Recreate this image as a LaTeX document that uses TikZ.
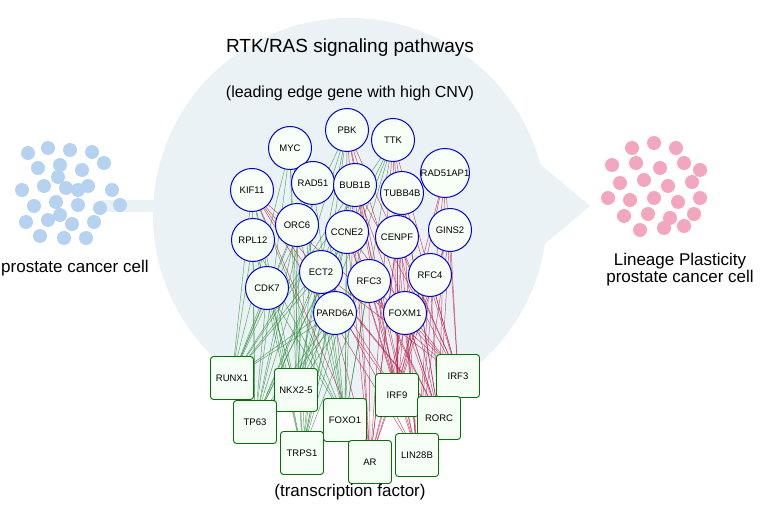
\documentclass[tikz,border=0pt]{standalone}
\usepackage{fontspec}
\setmainfont{Liberation Sans}
\usetikzlibrary{backgrounds}
\definecolor{bg}{HTML}{EAF2F5}
\definecolor{bd}{HTML}{B5D3F0}
\definecolor{pd}{HTML}{F3A6BE}
\definecolor{gr}{HTML}{2E8B3A}
\definecolor{rd}{HTML}{C01846}
\begin{document}
\begin{tikzpicture}[x=1pt,y=-1pt,
 gene/.style={circle,draw=blue!85!black,line width=1pt,fill=green!3,minimum size=43pt,inner sep=0pt,font=\fontsize{9.5}{10}\selectfont},
 tf/.style={rectangle,rounded corners=3pt,draw=green!45!black,line width=0.9pt,fill=green!4,minimum size=43pt,inner sep=0pt,font=\fontsize{9.5}{10}\selectfont},
 gl/.style={gr,line width=0.45pt,opacity=0.8},
 rl/.style={rd,line width=0.45pt,opacity=0.8},
 bdot/.style={circle,fill=bd,inner sep=0pt,minimum size=14pt},
 pdot/.style={circle,fill=pd,inner sep=0pt,minimum size=14pt},
 lbl/.style={font=\fontsize{17}{20}\selectfont,align=center}]
\useasboundingbox (0,0) rectangle (765,505);
\foreach \n/\x/\y in {PBK/347/130,MYC/290/148,TTK/393/140,KIF11/252/190,RAD51/313/183,BUB1B/355/185,TUBB4B/402/193,RAD51AP1/445/173,ORC6/297/225,CCNE2/347/232,CENPF/397/237,GINS2/450/230,RPL12/253/240,ECT2/321/272,RFC3/369/281,RFC4/430/275,CDK7/267/288,PARD6A/335/313,FOXM1/405/313}
  \node[gene] (\n) at (\x,\y) {\n};
\foreach \n/\t/\x/\y in {RUNX1/RUNX1/232/378,NKX/NKX2-5/296/390,TP63/TP63/255/422,FOXO1/FOXO1/345/420,TRPS1/TRPS1/302/453,AR/AR/370/462,IRF9/IRF9/397/395,IRF3/IRF3/458/376,RORC/RORC/439/418,LIN28B/LIN28B/417/455}
  \node[tf] (\n) at (\x,\y) {\t};
\begin{scope}[on background layer]
 \fill[bg] (350,215) circle (197);
 \fill[bg] (100,200) rectangle (540,212);
 \fill[bg] (535,160) -- (590,206) -- (535,252) -- cycle;
 \foreach \g in {MYC,KIF11,RAD51,ORC6,RPL12,CDK7,ECT2,PARD6A,CCNE2,BUB1B,PBK,TTK,RFC3}
  \foreach \t in {RUNX1,NKX,TP63,TRPS1,FOXO1}
   \draw[gl] (\g) -- (\t);
 \foreach \g in {TTK,TUBB4B,RAD51AP1,CENPF,GINS2,RFC3,RFC4,FOXM1,PBK,BUB1B,CCNE2,KIF11,ECT2}
  \foreach \t in {IRF9,IRF3,RORC,LIN28B,AR}
   \draw[rl] (\g) -- (\t);
\end{scope}
\foreach \x/\y [count=\i] in {28/153,48/148,70/150,92/152,38/168,60/165,82/170,104/163,22/190,44/186,66/188,88/186,112/190,34/206,56/202,78/205,100/208,120/205,26/222,48/220,72/224,94/222,40/236,64/238,86/238,58/177,78/190,60/215}
  \node[bdot] (b\i) at (\x,\y) {};
\foreach \x/\y [count=\i] in {632/148,654/143,676/148,612/165,636/163,660/168,684/163,700/170,620/183,644/180,668/186,692/182,608/198,630/200,654/198,678/202,700/198,624/216,648/214,670/218,694/214,640/230,664/228,684/226}
  \node[pdot] (p\i) at (\x,\y) {};
\node[font=\fontsize{19}{22}\selectfont] (title) at (350,48) {RTK/RAS signaling pathways};
\node[font=\fontsize{16}{19}\selectfont] (sub) at (350,93) {(leading edge gene with high CNV)};
\node[lbl,inner sep=0pt,anchor=west] (left) at (1,268) {prostate cancer cell};
\node[lbl] (right) at (680,270) {Lineage Plasticity\\[-3pt]prostate cancer cell};
\node[font=\fontsize{17}{20}\selectfont] (tfl) at (350,492) {(transcription factor)};
\end{tikzpicture}
\end{document}
